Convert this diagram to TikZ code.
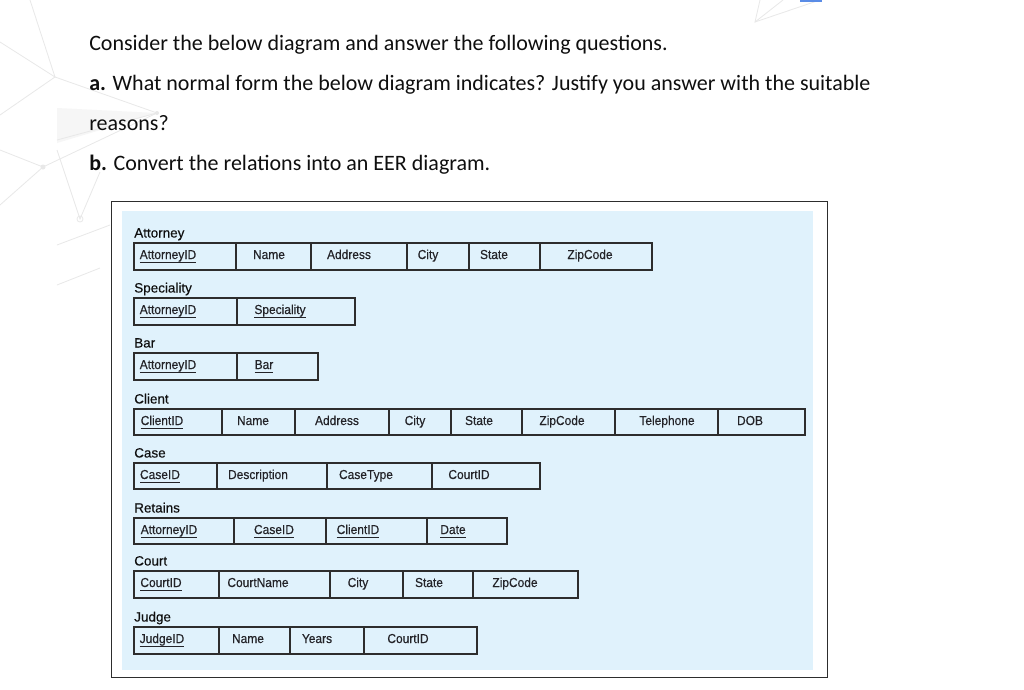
\documentclass[tikz,border=0pt]{standalone}
\usepackage{fontspec}
\setmainfont{Carlito}
\newfontfamily\cellfont[FakeStretch=0.92,FakeBold=0.35]{Liberation Sans}
\newfontfamily\labelfont[FakeBold=0.3]{Liberation Sans}
\usetikzlibrary{positioning}
\newsavebox\keybox
\newcommand{\key}[1]{\sbox\keybox{#1}\rlap{\rule[-3.3pt]{\wd\keybox}{1.2pt}}\usebox\keybox}
\definecolor{panelblue}{RGB}{224,242,252}
\definecolor{rulegray}{RGB}{45,45,45}
\definecolor{inkgray}{RGB}{35,35,40}
\definecolor{textblack}{RGB}{15,15,15}
\definecolor{decorgray}{RGB}{232,232,232}
\definecolor{tabblue}{RGB}{90,140,230}
\tikzset{
  cell/.style={draw=rulegray, line width=1.2pt},
  field/.style={anchor=base, inner sep=0pt, font=\cellfont\fontsize{9.75}{11}\selectfont, text=inkgray},
  relname/.style={anchor=base west, inner sep=0pt, font=\labelfont\fontsize{10.1}{12}\selectfont, text=textblack},
  question/.style={anchor=base west, inner sep=0pt, font=\fontsize{16.5}{20}\selectfont, text=textblack},
  decor/.style={draw=decorgray, line width=0.6pt},
}
\begin{document}
\begin{tikzpicture}[x=0.75pt, y=-0.75pt]
\useasboundingbox (0,0) rectangle (1024,689);
\fill[white] (0,0) rectangle (1024,689);

% faint background lines
\fill[decorgray!40] (57,108) -- (157,113) -- (57,143) -- cycle;
\draw[decor] (0,42) -- (55,77) -- (0,115);
\draw[decor] (30,0) -- (55,77) -- (157,113);
\draw[decor] (157,113) -- (57,140);
\fill[decorgray] (157,113) circle (2);
\draw[decor] (0,150) -- (43,167) -- (0,205);
\draw[decor] (43,167) -- (157,113);
\fill[decorgray] (43,167) circle (2.5);
\draw[decor] (57,150) -- (80,219) -- (100,172);
\draw[decor] (80,219) circle (3);
\draw[decor] (57,245) -- (110,225);
\draw[decor] (57,285) -- (100,268);
\draw[decor] (760,0) -- (755,22) -- (820,0);
\draw[decor] (755,22) -- (783,0);
\fill[tabblue] (800,0) rectangle (822,1.5);

% questions
\node[question] (intro) at (89,50) {Consider the below diagram and answer the following questions.};
\node[question] (qa) at (89,90) {\textbf{a.} What normal form the below diagram indicates? Justify you answer with the suitable};
\node[question] (qa2) at (89,130) {reasons?};
\node[question] (qb) at (89,170) {\textbf{b.} Convert the relations into an EER diagram.};

% frame and panel
\draw[draw=rulegray, line width=1.3pt] (111.5,201.5) rectangle (827.5,677.5);
\fill[panelblue] (122,211) rectangle (813,670);

% Attorney
\node[relname] (attorney) at (134,237.5) {Attorney};
\foreach \l/\r/\c/\t [count=\i] in {134/236/168/\key{AttorneyID},236/311/269/Name,311/407/349/Address,407/469/428/City,469/540/494/State,540/652/590/ZipCode} {
\draw[cell] (\l,243) rectangle (\r,270); \node[field] (attorney\i) at (\c,259) {\t};
}

% Speciality
\node[relname] (speciality) at (134,292.5) {Speciality};
\foreach \l/\r/\c/\t [count=\i] in {134/237/168/\key{AttorneyID},237/355/280/\key{Speciality}} {
\draw[cell] (\l,298) rectangle (\r,325); \node[field] (speciality\i) at (\c,314) {\t};
}

% Bar
\node[relname] (bar) at (134,347.5) {Bar};
\foreach \l/\r/\c/\t [count=\i] in {134/237/168/\key{AttorneyID},237/318/264/\key{Bar}} {
\draw[cell] (\l,353) rectangle (\r,380); \node[field] (bar\i) at (\c,369) {\t};
}

% Client
\node[relname] (client) at (134,403.5) {Client};
\foreach \l/\r/\c/\t [count=\i] in {134/222/162/\key{ClientID},222/295/253/Name,295/389/337/Address,389/451/415/City,451/522/479/State,522/615/562/ZipCode,615/718/667/Telephone,718/805/750/DOB} {
\draw[cell] (\l,409) rectangle (\r,435); \node[field] (client\i) at (\c,425) {\t};
}

% Case
\node[relname] (case) at (134,457.5) {Case};
\foreach \l/\r/\c/\t [count=\i] in {134/217/160/\key{CaseID},217/327/258/Description,327/432/366/CaseType,432/540/469/CourtID} {
\draw[cell] (\l,463) rectangle (\r,489); \node[field] (case\i) at (\c,479) {\t};
}

% Retains
\node[relname] (retains) at (134,512.5) {Retains};
\foreach \l/\r/\c/\t [count=\i] in {134/234/169/\key{AttorneyID},234/326/274/\key{CaseID},326/427/358/\key{ClientID},427/507/453/\key{Date}} {
\draw[cell] (\l,518) rectangle (\r,544); \node[field] (retains\i) at (\c,534) {\t};
}

% Court
\node[relname] (court) at (134,565.5) {Court};
\foreach \l/\r/\c/\t [count=\i] in {134/219/161/\key{CourtID},219/330/258/CourtName,330/403/358/City,403/473/429/State,473/578/515/ZipCode} {
\draw[cell] (\l,571) rectangle (\r,598); \node[field] (court\i) at (\c,587) {\t};
}

% Judge
\node[relname] (judge) at (134,621.5) {Judge};
\foreach \l/\r/\c/\t [count=\i] in {134/219/162/\key{JudgeID},219/290/248/Name,290/364/317/Years,364/477/408/CourtID} {
\draw[cell] (\l,627) rectangle (\r,654); \node[field] (judge\i) at (\c,643) {\t};
}
\end{tikzpicture}
\end{document}
